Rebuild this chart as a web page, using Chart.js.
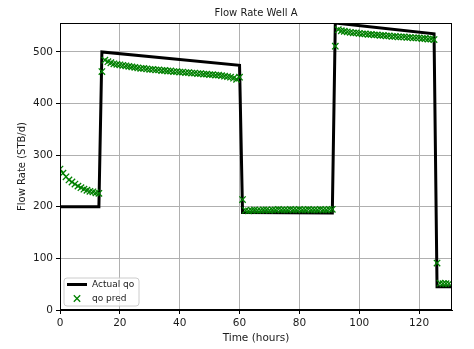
<!DOCTYPE html>
<html>
<head>
<meta charset="utf-8">
<title>Flow Rate Well A</title>
<script src="https://cdn.jsdelivr.net/npm/chart.js@4.4.1/dist/chart.umd.min.js"></script>
<style>
  html, body { margin: 0; padding: 0; background: #fff; }
  #wrap { width: 474px; height: 349px; }
</style>
</head>
<body>
<div id="wrap"><canvas id="flowChart" width="474" height="349"></canvas></div>
<script>
// --- measured rate (step changes between hourly samples) ---
const actualHours = [0, 13, 14, 60, 61, 91, 92, 125, 126, 131];
const actualRate  = [200, 200, 500, 474, 189, 188, 556, 535, 45, 45];

// --- model prediction, one sample per hour ---
const predHours = [
  0, 1, 2, 3, 4, 5, 6, 7, 8, 9, 10, 11, 12, 13, 14, 15, 16, 17, 18, 19,
  20, 21, 22, 23, 24, 25, 26, 27, 28, 29, 30, 31, 32, 33, 34, 35, 36, 37, 38, 39,
  40, 41, 42, 43, 44, 45, 46, 47, 48, 49, 50, 51, 52, 53, 54, 55, 56, 57, 58, 59,
  60, 61, 62, 63, 64, 65, 66, 67, 68, 69, 70, 71, 72, 73, 74, 75, 76, 77, 78, 79,
  80, 81, 82, 83, 84, 85, 86, 87, 88, 89, 90, 91, 92, 93, 94, 95, 96, 97, 98, 99,
  100, 101, 102, 103, 104, 105, 106, 107, 108, 109, 110, 111, 112, 113, 114, 115, 116, 117, 118, 119,
  120, 121, 122, 123, 124, 125, 126, 127, 128, 129, 130
];
const predRate = [
  273, 265, 258, 252, 248, 244, 240, 237, 234, 232, 230, 229, 227, 226,
  462, 484, 481, 479, 477, 476, 475, 474, 473, 472, 471, 470, 469, 468, 468, 467,
  466, 466, 465, 465, 464, 464, 463, 463, 462, 462, 461, 461, 460, 460, 459, 459,
  458, 458, 457, 457, 456, 456, 455, 455, 454, 453, 452, 451, 449, 447, 451,
  214, 193, 192, 193, 194, 193, 193, 194, 194, 193, 194, 194, 195, 194, 194, 194,
  195, 194, 194, 195, 194, 194, 195, 194, 194, 194, 195, 194, 194, 195, 195,
  511, 543, 541, 540, 539, 538, 537, 537, 536, 535, 535, 534, 534, 533, 533, 532,
  532, 531, 531, 530, 530, 529, 529, 529, 528, 528, 527, 527, 527, 526, 526, 525,
  525, 524,
  91, 52, 51, 51, 51
];

// --- axis ticks ---
const xTicks = [0, 20, 40, 60, 80, 100, 120];
const yTicks = [0, 100, 200, 300, 400, 500];

const FONT = 'DejaVu Sans';
const TEXT = '#1a1a1a';
const GRID = '#b0b0b0';

// full black box round the plot area
const axesFrame = {
    id: 'axesFrame',
    afterDatasetsDraw(chart) {
        const { ctx, chartArea: a } = chart;
        ctx.save();
        ctx.strokeStyle = '#000';
        ctx.lineWidth = 1;
        const l = Math.round(a.left) + 0.5, t = Math.round(a.top) + 0.5;
        const r = Math.round(a.right) - 0.5, b = Math.round(a.bottom) - 0.5;
        ctx.strokeRect(l, t, r - l, b - t);
        ctx.restore();
    }
};

// legend box in the lower-left corner of the plot
const insetLegend = {
    id: 'insetLegend',
    afterDraw(chart) {
        const { ctx, chartArea: a } = chart;
        const sets = chart.data.datasets;
        const x0 = a.left + 4, y0 = a.bottom - 32, w = 75, h = 28, r = 3;
        ctx.save();
        ctx.beginPath();
        ctx.moveTo(x0 + r, y0);
        ctx.arcTo(x0 + w, y0, x0 + w, y0 + h, r);
        ctx.arcTo(x0 + w, y0 + h, x0, y0 + h, r);
        ctx.arcTo(x0, y0 + h, x0, y0, r);
        ctx.arcTo(x0, y0, x0 + w, y0, r);
        ctx.closePath();
        ctx.fillStyle = 'rgba(255,255,255,0.8)';
        ctx.fill();
        ctx.strokeStyle = '#cccccc';
        ctx.lineWidth = 1;
        ctx.stroke();

        ctx.font = '9px "' + FONT + '"';
        ctx.textBaseline = 'middle';
        ctx.fillStyle = TEXT;

        // row 1: solid line
        let ry = y0 + 6.5;
        ctx.strokeStyle = sets[0].borderColor;
        ctx.lineWidth = 3;
        ctx.beginPath();
        ctx.moveTo(x0 + 3, ry);
        ctx.lineTo(x0 + 23, ry);
        ctx.stroke();
        ctx.fillText(sets[0].label, x0 + 28, ry);

        // row 2: x marker
        ry = y0 + 20.5;
        const cx = x0 + 13, s = 3.2;
        ctx.strokeStyle = sets[1].borderColor;
        ctx.lineWidth = 1.3;
        ctx.beginPath();
        ctx.moveTo(cx - s, ry - s); ctx.lineTo(cx + s, ry + s);
        ctx.moveTo(cx - s, ry + s); ctx.lineTo(cx + s, ry - s);
        ctx.stroke();
        ctx.fillStyle = TEXT;
        ctx.fillText(sets[1].label, x0 + 28, ry);
        ctx.restore();
    }
};

const ctx = document.getElementById('flowChart').getContext('2d');

new Chart(ctx, {
    type: 'scatter',
    data: {
        datasets: [
            {
                label: 'Actual qo',
                data: actualHours.map((t, i) => ({ x: t, y: actualRate[i] })),
                showLine: true,
                borderColor: '#000000',
                backgroundColor: '#000000',
                borderWidth: 3,
                pointRadius: 0,
                tension: 0,
                clip: 0,
                order: 1
            },
            {
                label: 'qo pred',
                data: predHours.map((t, i) => ({ x: t, y: predRate[i] })),
                showLine: false,
                borderColor: '#008000',
                backgroundColor: '#008000',
                pointStyle: 'crossRot',
                pointRadius: 4.5,
                pointBorderWidth: 1.3,
                clip: 0,
                order: 0
            }
        ]
    },
    options: {
        responsive: false,
        animation: false,
        devicePixelRatio: 1,
        layout: { padding: { left: 0, right: 22, top: 0, bottom: 0 } },
        plugins: {
            legend: { display: false },
            tooltip: { enabled: false },
            title: {
                display: true,
                text: 'Flow Rate Well A',
                fullSize: false,
                color: TEXT,
                font: { family: FONT, size: 10, weight: 'normal' },
                padding: { top: 7, bottom: 4 }
            }
        },
        scales: {
            x: {
                type: 'linear',
                min: 0,
                max: 131,
                afterFit(scale) { scale.height = 39; },
                afterBuildTicks(scale) { scale.ticks = xTicks.map(v => ({ value: v })); },
                ticks: {
                    color: TEXT,
                    font: { family: FONT, size: 10.5 },
                    padding: 3,
                    maxRotation: 0
                },
                grid: { color: GRID, lineWidth: 1, tickColor: '#000', tickLength: 4 },
                border: { display: true, color: '#000', width: 1 },
                title: {
                    display: true,
                    text: 'Time (hours)',
                    color: TEXT,
                    font: { family: FONT, size: 10.5 },
                    padding: { top: 0, bottom: 4 }
                }
            },
            y: {
                type: 'linear',
                min: 0,
                max: 556,
                afterFit(scale) { scale.width = 60; },
                afterBuildTicks(scale) { scale.ticks = yTicks.map(v => ({ value: v })); },
                ticks: {
                    color: TEXT,
                    font: { family: FONT, size: 10.5 },
                    padding: 3
                },
                grid: { color: GRID, lineWidth: 1, tickColor: '#000', tickLength: 4 },
                border: { display: true, color: '#000', width: 1 },
                title: {
                    display: true,
                    text: 'Flow Rate (STB/d)',
                    color: TEXT,
                    font: { family: FONT, size: 10 },
                    padding: { top: 16, bottom: 0 }
                }
            }
        }
    },
    plugins: [axesFrame, insetLegend]
});
</script>
</body>
</html>
